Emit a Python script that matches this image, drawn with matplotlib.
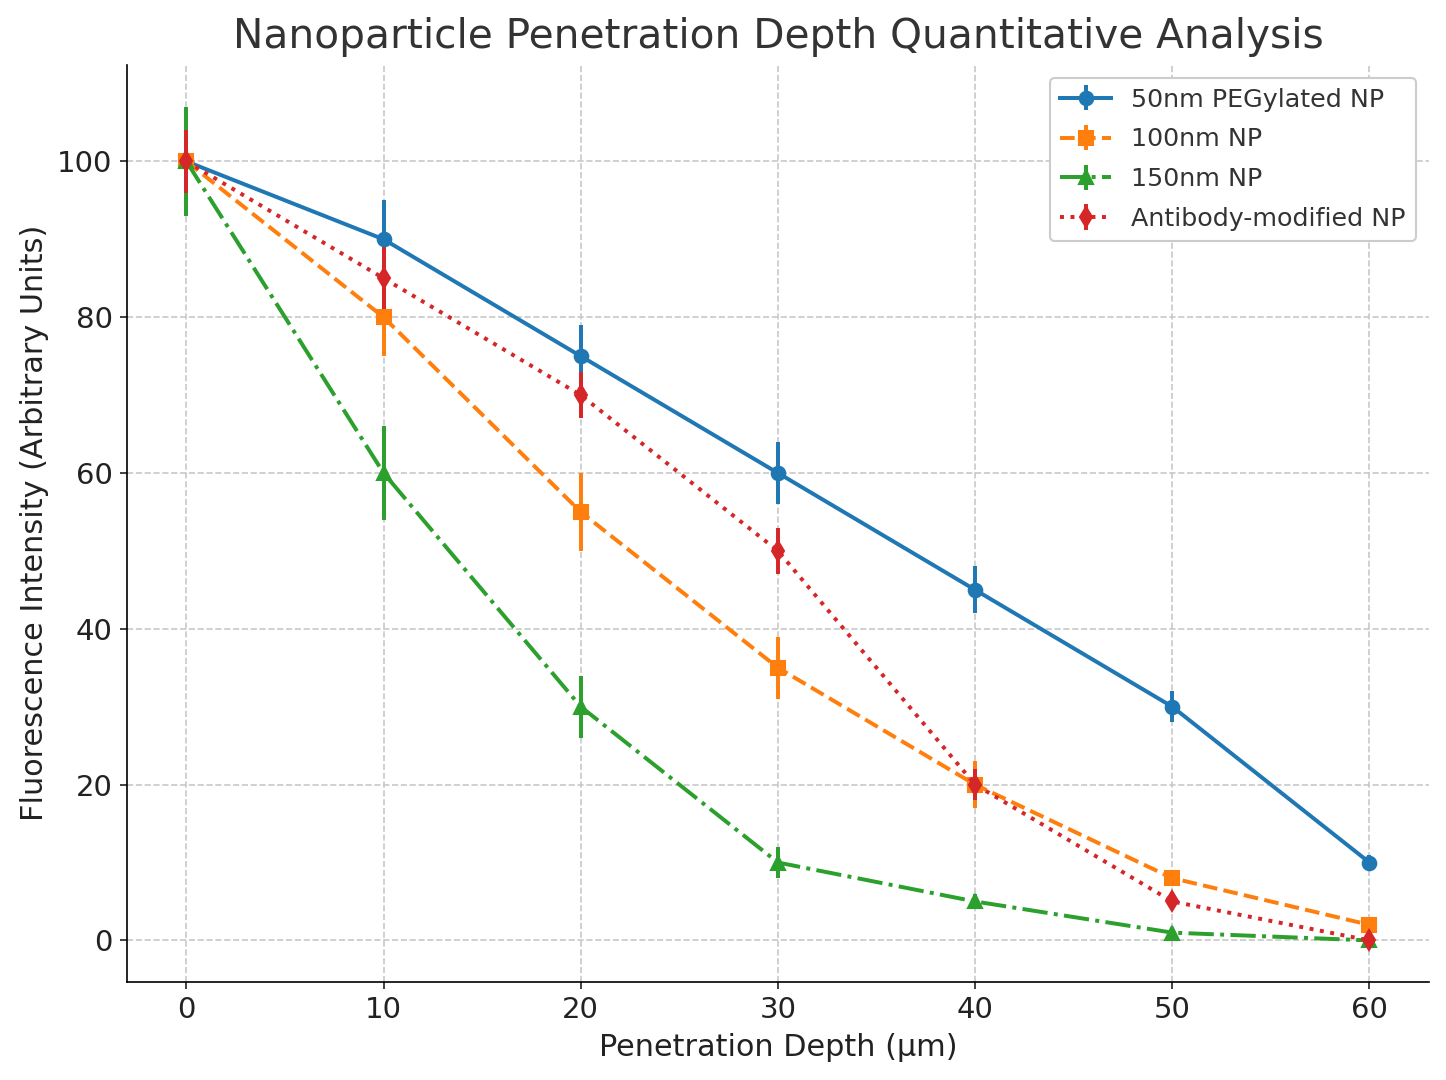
import numpy as np
import matplotlib
matplotlib.use('Agg')
import matplotlib.pyplot as plt

# penetration depth (um)
depth = [0, 10, 20, 30, 40, 50, 60]

# fluorescence intensity per formulation
peg50 = [100, 90, 75, 60, 45, 30, 10]
peg50_err = [3, 5, 4, 4, 3, 2, 1]
np100 = [100, 80, 55, 35, 20, 8, 2]
np100_err = [5, 5, 5, 4, 3, 1, 0.5]
np150 = [100, 60, 30, 10, 5, 1, 0]
np150_err = [7, 6, 4, 2, 1, 0.5, 0]
antibody = [100, 85, 70, 50, 20, 5, 0]
antibody_err = [4, 4, 3, 3, 2, 1, 1]

labels = ['50nm PEGylated NP', '100nm NP', '150nm NP', 'Antibody-modified NP']

fig, ax = plt.subplots(figsize=(9.64, 7.2), dpi=150)
fig.subplots_adjust(left=0.088, right=0.988, top=0.94, bottom=0.091)

series = [(peg50, peg50_err, 'o', '-', '#1f77b4'),
          (np100, np100_err, 's', '--', '#ff7f0e'),
          (np150, np150_err, '^', '-.', '#2ca02c'),
          (antibody, antibody_err, 'd', ':', '#d62728')]

for (vals, err, mk, ls, col), lab in zip(series, labels):
    ax.errorbar(depth, vals, yerr=err, marker=mk, linestyle=ls, color=col,
                linewidth=1.9, markersize=6.5, elinewidth=1.9, capsize=0,
                label=lab)

ax.set_xlim(-3, 63)
ax.set_ylim(-5.3, 112.4)
ax.set_xticks(depth)
ax.set_yticks([0, 20, 40, 60, 80, 100])
ax.tick_params(labelsize=14, colors='#222222')
ax.grid(True, linestyle='--', color='#c8c8c8', linewidth=0.8)
ax.spines['top'].set_visible(False)
ax.spines['right'].set_visible(False)
ax.set_title('Nanoparticle Penetration Depth Quantitative Analysis',
             fontsize=19.5, color='#333333', pad=8)
ax.set_xlabel('Penetration Depth (µm)', fontsize=14.5, color='#222222',
              labelpad=4)
ax.set_ylabel('Fluorescence Intensity (Arbitrary Units)', fontsize=14.5,
              color='#222222')
leg = ax.legend(loc='upper right', fontsize=12.2, labelcolor='#333333',
                framealpha=1, labelspacing=0.62)
leg.get_frame().set_edgecolor('#cccccc')

plt.savefig('out.png', dpi=150)
